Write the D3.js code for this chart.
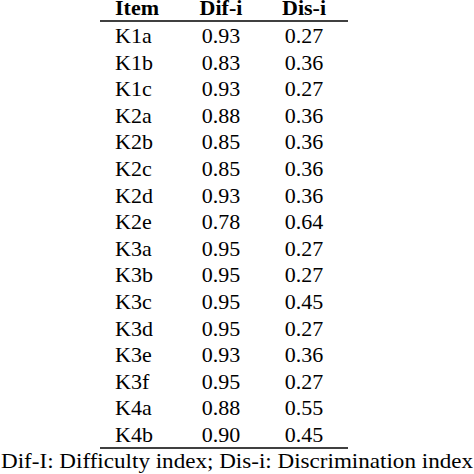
<!DOCTYPE html><html><head><meta charset="utf-8"><script src="https://cdn.jsdelivr.net/npm/d3@7"></script>
<style>body{margin:0;background:#fff}</style></head><body><script>
const items=["K1a","K1b","K1c","K2a","K2b","K2c","K2d","K2e","K3a","K3b","K3c","K3d","K3e","K3f","K4a","K4b"];
const difI=["0.93","0.83","0.93","0.88","0.85","0.85","0.93","0.78","0.95","0.95","0.95","0.95","0.93","0.95","0.88","0.90"];
const disI=["0.27","0.36","0.27","0.36","0.36","0.36","0.36","0.64","0.27","0.27","0.45","0.27","0.36","0.27","0.55","0.45"];
const headers=["Item","Dif-i","Dis-i"];
const svg=d3.select("body").append("svg").attr("width",474).attr("height",474)
 .style("font-family","'Liberation Serif','Times New Roman',serif");
const y=d3.scaleLinear().domain([0,15]).range([43,442]);
const colX=[115,221,304], anchors=["start","middle","middle"];
const fs=22;
headers.forEach((h,i)=>svg.append("text").attr("x",colX[i]).attr("y",15).attr("text-anchor",anchors[i])
 .attr("font-size",fs).attr("font-weight","bold").text(h));
svg.append("line").attr("x1",100).attr("x2",348).attr("y1",21).attr("y2",21).attr("stroke","#000").attr("stroke-width",1.5);
const rows=svg.selectAll("g.r").data(items.map((d,i)=>[d,difI[i],disI[i]])).join("g").attr("transform",(d,i)=>`translate(0,${y(i)})`);
[0,1,2].forEach(c=>rows.append("text").attr("x",colX[c]).attr("text-anchor",anchors[c]).attr("font-size",fs).text(d=>d[c]));
svg.append("line").attr("x1",100).attr("x2",348).attr("y1",448).attr("y2",448).attr("stroke","#000").attr("stroke-width",1.5);
svg.append("text").attr("x",237).attr("y",468).attr("text-anchor","middle").attr("font-size",21.5)
 .attr("textLength",472).attr("lengthAdjust","spacingAndGlyphs").text("Dif-I: Difficulty index; Dis-i: Discrimination index");
</script></body></html>
